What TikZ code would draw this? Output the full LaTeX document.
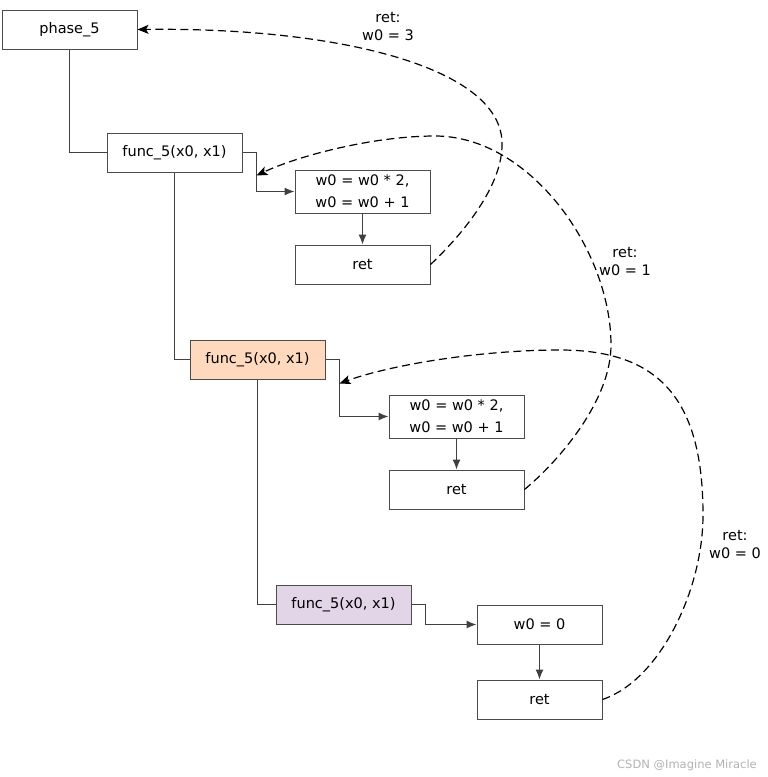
\documentclass[tikz,border=0pt]{standalone}
\usepackage{fontspec}
\setmainfont{DejaVu Sans}
\usetikzlibrary{arrows.meta,calc}
\begin{document}
\begin{tikzpicture}[x=1pt,y=-1pt,
  box/.style={draw=black!70, line width=1pt, rectangle, minimum width=135pt, minimum height=39pt, inner sep=0pt, font=\fontsize{14.5}{17}\selectfont, align=center},
  calcbox/.style={box, minimum height=43pt, font=\fontsize{14.5}{22}\selectfont},
  smallbox/.style={box, minimum width=125pt},
  link/.style={draw=black!75, line width=1.2pt},
  arr/.style={link, -{Latex[length=10pt,width=8pt]}},
  ret/.style={draw=black, line width=1.2pt, dash pattern=on 8pt off 4.5pt, -{Stealth[length=11pt,width=9pt,inset=2.5pt]}},
  lbl/.style={font=\fontsize{14.5}{18}\selectfont, align=center, inner sep=0pt}
  ]
\useasboundingbox (0,0) rectangle (768,777);

\node[box] (phase) at (69.5,29.5) {phase\_5};
\node[box] (f1) at (174.5,152.5) {func\_5(x0, x1)};
\node[calcbox] (c1) at (362.5,191.5) {w0 = w0 * 2,\\w0 = w0 + 1};
\node[box] (r1) at (362.5,264.5) {ret};
\node[box, fill={rgb,255:red,255;green,217;blue,189}] (f2) at (257.5,359.5) {func\_5(x0, x1)};
\node[calcbox] (c2) at (456.5,416.5) {w0 = w0 * 2,\\w0 = w0 + 1};
\node[box] (r2) at (456.5,489.5) {ret};
\node[box, fill={rgb,255:red,225;green,213;blue,231}] (f3) at (343.5,604.5) {func\_5(x0, x1)};
\node[smallbox] (z) at (539.5,624.5) {w0 = 0};
\node[smallbox] (r3) at (539.5,699.5) {ret};

% tree connectors
\draw[link] (phase.south) |- (f1.west);
\draw[link] (f1.south) |- (f2.west);
\draw[link] (f2.south) |- (f3.west);

% call connectors
\draw[arr] (f1.east) -- ++(14,0) coordinate (e1) |- (c1.west);
\draw[arr] (f2.east) -- ++(14,0) coordinate (e2) |- (c2.west);
\draw[arr] (f3.east) -- ++(14,0) coordinate (e3) |- (z.west);
\coordinate (j1) at ($(e1)+(0,23)$);
\coordinate (j2) at ($(e2)+(0,24)$);

\draw[arr] (c1.south) -- (r1.north);
\draw[arr] (c2.south) -- (r2.north);
\draw[arr] (z.south) -- (r3.north);

% return curves
\draw[ret] (r1.east) .. controls (465,232) and (502,185) .. (502,145)
  .. controls (504,68) and (340,27) .. (phase.east);
\draw[ret] (r2.east) .. controls (560,460) and (611,400) .. (611,345)
  .. controls (611,250) and (530,136) .. (435,136)
  .. controls (375,136) and (300,155) .. (j1);
\draw[ret] (r3.east) .. controls (660,680) and (703,590) .. (703,515)
  .. controls (703,400) and (660,350) .. (560,350)
  .. controls (480,350) and (390,365) .. (j2);

% labels
\node[lbl] (l1) at (388,27) {ret:\\w0 = 3};
\node[lbl] (l2) at (625,262) {ret:\\w0 = 1};
\node[lbl] (l3) at (735,545) {ret:\\w0 = 0};

\node[font=\fontsize{11.5}{13}\selectfont, text=black!30, anchor=east, inner sep=0pt] (wm) at (757,765) {CSDN @Imagine Miracle};
\end{tikzpicture}
\end{document}
